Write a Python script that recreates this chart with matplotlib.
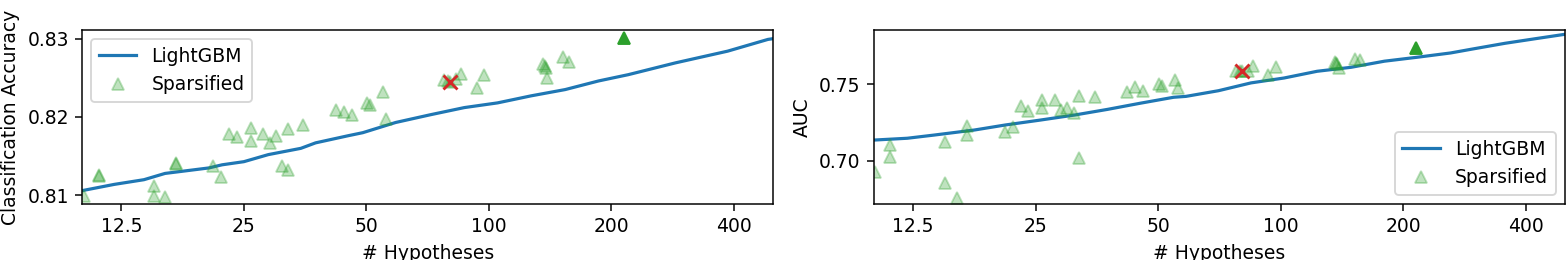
import numpy as np
import matplotlib
matplotlib.use("Agg")
import matplotlib.pyplot as plt

# ---------------------------------------- DATA ----------------------------------------

# LightGBM baseline, accuracy vs. number of hypotheses
lgbm_x_acc = [10, 12.0, 14.2, 16, 20.5, 22.1, 25, 28.7, 34.5, 37.5, 45, 49, 59, 72,
              87, 105, 127, 154, 186, 220, 287, 386, 485, 500]
lgbm_acc = [0.8106, 0.8114, 0.8120, 0.8128, 0.8135, 0.8139, 0.8143, 0.8152, 0.8160,
            0.8167, 0.8176, 0.8180, 0.8193, 0.8203, 0.8212, 0.8218, 0.8227, 0.8235,
            0.8246, 0.8254, 0.8269, 0.8284, 0.8299, 0.8300]

# LightGBM baseline, AUC vs. number of hypotheses
lgbm_x_auc = [10, 12.1, 14.1, 17.7, 21.1, 25.7, 31.2, 37.6, 45.2, 54.6, 58.6, 70.4,
              84.6, 102, 123, 149, 180, 217, 262, 294, 356, 430, 500]
lgbm_auc = [0.7135, 0.7147, 0.7168, 0.7201, 0.7234, 0.7266, 0.7299, 0.7336, 0.7376,
            0.7415, 0.7421, 0.7458, 0.7509, 0.7541, 0.7585, 0.7611, 0.7651, 0.7677,
            0.7705, 0.7729, 0.7768, 0.7801, 0.7827]

# sparsified models
sp_x = [10.1, 11.0, 11.0, 15.0, 15.0, 16.0, 17.0, 17.0, 21.0, 22.0, 23.0, 24.0,
        26.0, 26.0, 27.9, 28.9, 29.9, 31.0, 32.0, 32.0, 35.0, 42.0, 44.0, 46.0,
        50.2, 51.0, 55.0, 56.0, 77.6, 79.4, 80.3, 83.0, 85.6, 93.4, 97.4,
        136, 137, 138, 139, 152, 157]
sp_acc = [0.8099, 0.8125, 0.8126, 0.8112, 0.8099, 0.8098, 0.8140, 0.8141, 0.8138,
          0.8124, 0.8178, 0.8175, 0.8186, 0.8169, 0.8178, 0.8167, 0.8176, 0.8138,
          0.8185, 0.8132, 0.8190, 0.8209, 0.8206, 0.8203, 0.8218, 0.8215, 0.8232,
          0.8197, 0.8247, 0.8246, 0.8245, 0.8248, 0.8255, 0.8237, 0.8253,
          0.8267, 0.8265, 0.8262, 0.8250, 0.8277, 0.8270]
sp_auc = [0.6928, 0.7103, 0.7026, 0.7124, 0.6856, 0.6758, 0.7227, 0.7168, 0.7190,
          0.7223, 0.7358, 0.7325, 0.7397, 0.7347, 0.7397, 0.7332, 0.7347, 0.7310,
          0.7423, 0.7016, 0.7419, 0.7452, 0.7484, 0.7456, 0.7502, 0.7489, 0.7530,
          0.7476, 0.7587, 0.7590, 0.7589, 0.7585, 0.7618, 0.7563, 0.7611,
          0.7643, 0.7640, 0.7630, 0.7605, 0.7666, 0.7657]

# largest sparsified model (drawn solid)
top_x = [215]
top_acc = [0.8301]
top_auc = [0.7737]

# selected model
sel_x = [80.3]
sel_acc = [0.8245]
sel_auc = [0.7589]

xticks = [12.5, 25, 50, 100, 200, 400]
xtick_labels = ['12.5', '25', '50', '100', '200', '400']

# ---------------------------------------- PLOT ----------------------------------------

DPI = 135
fig, axes = plt.subplots(1, 2, figsize=(1567 / DPI, 260 / DPI), dpi=DPI)
fig.subplots_adjust(left=0.0523, right=0.9987, top=0.8846, bottom=0.2154, wspace=0.145)

panels = [
    (axes[0], lgbm_x_acc, lgbm_acc, sp_acc, top_acc, sel_acc, 'Classification Accuracy',
     (0.8089, 0.8311), [0.81, 0.82, 0.83], 'upper left'),
    (axes[1], lgbm_x_auc, lgbm_auc, sp_auc, top_auc, sel_auc, 'AUC',
     (0.6717, 0.7855), [0.70, 0.75], 'lower right'),
]

for ax, lx, ly, sy, ty, sely, ylab, ylim, yt, loc in panels:
    ax.plot(lx, ly, color='tab:blue', lw=1.7, label='LightGBM')
    ax.plot(sp_x, sy, '^', color='tab:green', alpha=0.3, label='Sparsified')
    ax.plot(top_x, ty, '^', color='tab:green')
    ax.plot(sel_x, sely, 'x', color='tab:red', ms=7, mew=1.5)
    ax.set_xscale('log', base=2)
    ax.set_xlim(lx[0], lx[-1])
    ax.set_xticks(xticks)
    ax.set_xticklabels(xtick_labels)
    ax.xaxis.set_minor_locator(matplotlib.ticker.NullLocator())
    ax.set_ylim(*ylim)
    ax.set_yticks(yt)
    ax.set_xlabel('# Hypotheses')
    ax.set_ylabel(ylab)
    ax.legend(loc=loc)

fig.savefig('out.png', dpi=DPI)
